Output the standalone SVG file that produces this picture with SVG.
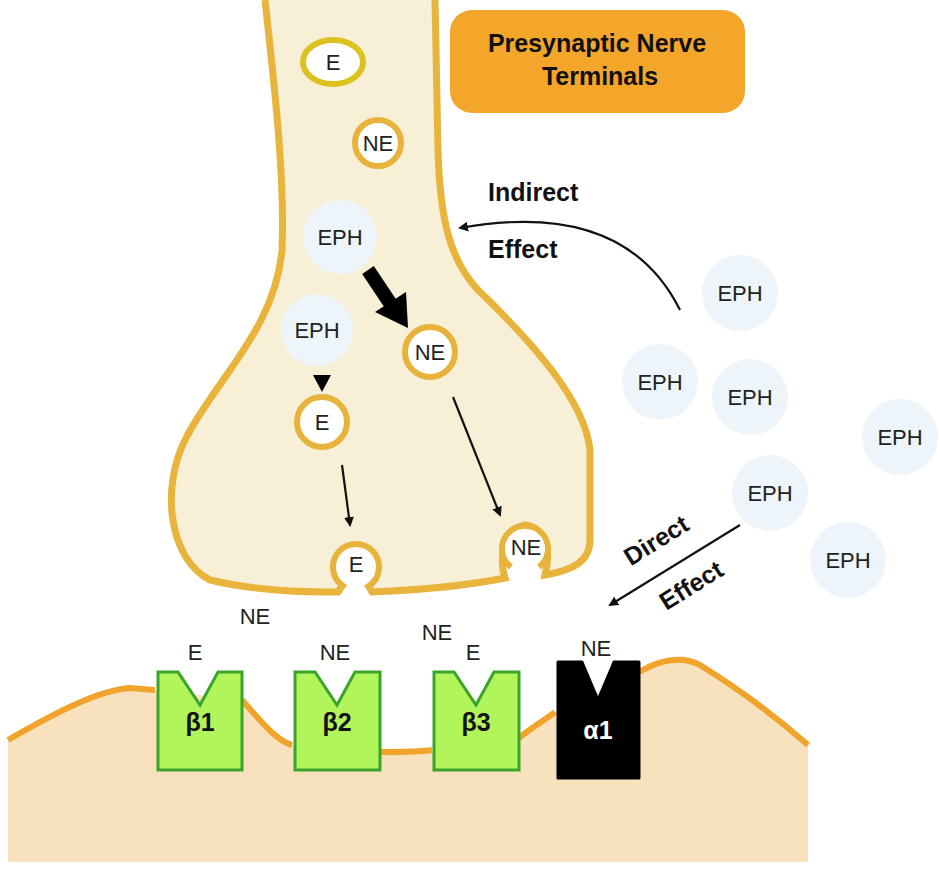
<svg xmlns="http://www.w3.org/2000/svg" width="940" height="872" viewBox="0 0 940 872">
<style>
text{font-family:"Liberation Sans",Arial,sans-serif;text-anchor:middle;dominant-baseline:central}
.t{font-size:22px;fill:#222}
.b{font-weight:bold;font-size:25px;fill:#111}
.l{text-anchor:start}
.ves{fill:#fff;stroke:#e8b33a;stroke-width:6}
.eph{fill:#eef5fa}
.rec{fill:#b2f55a;stroke:#3aa52a;stroke-width:3}
.ar{stroke:#111;stroke-width:2.2;fill:none;marker-end:url(#ah)}
</style>
<defs>
<marker id="ah" markerWidth="10" markerHeight="10" refX="8" refY="5" orient="auto" markerUnits="userSpaceOnUse" viewBox="0 0 10 10"><path d="M0,0L10,5L0,10z" fill="#111"/></marker>
</defs>
<g id="postsynaptic">
<path d="M8,740 C60,710 100,690 130,688 L155,690 L242,700 C260,720 275,740 292,745 L380,752 C400,752 420,752 432,750 L519,738 C535,725 548,718 555,712 L639,672 C660,660 680,655 700,665 C740,690 780,720 808,745 L808,862 L8,862 Z" fill="#f8e1bd"/>
<path d="M8,740 C60,710 100,690 130,688 L155,690 M242,700 C260,720 275,740 292,745 M380,752 C400,752 420,752 432,750 M519,738 C535,725 548,718 555,712 M639,672 C660,660 680,655 700,665 C740,690 780,720 808,745" fill="none" stroke="#f0a42c" stroke-width="6"/>
</g>
<g id="terminal">
<path d="M265,0 C275,90 285,180 282,250 C275,330 215,380 185,440 C160,490 170,560 210,580 C260,592 310,592 338,592 C350,572 362,572 372,592 C420,590 470,585 505,578 C498,555 505,530 525,525 C545,528 552,548 545,575 C575,570 590,560 590,540 L590,450 C585,400 530,340 478,290 C450,260 440,220 438,150 L435,0" fill="#f8efd7" stroke="#e9b43c" stroke-width="7"/>
</g>
<g id="vesicles">
<ellipse cx="333" cy="62" rx="30" ry="22" fill="#fff" stroke="#dcc21e" stroke-width="6"/><text class="t" x="333" y="62">E</text>
<circle class="ves" cx="378" cy="143" r="23"/><text class="t" x="378" y="143">NE</text>
<circle class="eph" cx="340" cy="237" r="37"/><text class="t" x="340" y="237">EPH</text>
<circle class="eph" cx="317" cy="330" r="36"/><text class="t" x="317" y="330">EPH</text>
<circle class="ves" cx="430" cy="352" r="25"/><text class="t" x="430" y="352">NE</text>
<circle class="ves" cx="322" cy="422" r="25"/><text class="t" x="322" y="422">E</text>
<circle cx="356" cy="566" r="21" fill="#fff"/>
<path d="M343,586 A23,23 0 1 1 369,586" fill="none" stroke="#e8b33a" stroke-width="6"/>
<text class="t" x="356" y="564">E</text>
<circle cx="525" cy="548" r="21" fill="#fff"/>
<path d="M511,567 A23,23 0 1 1 539,567" fill="none" stroke="#e8b33a" stroke-width="6"/>
<text class="t" x="526" y="547">NE</text>
</g>
<g id="extracellular">
<circle class="eph" cx="740" cy="293" r="38"/><text class="t" x="740" y="293">EPH</text>
<circle class="eph" cx="660" cy="382" r="38"/><text class="t" x="660" y="382">EPH</text>
<circle class="eph" cx="750" cy="397" r="38"/><text class="t" x="750" y="397">EPH</text>
<circle class="eph" cx="900" cy="437" r="38"/><text class="t" x="900" y="437">EPH</text>
<circle class="eph" cx="770" cy="493" r="38"/><text class="t" x="770" y="493">EPH</text>
<circle class="eph" cx="848" cy="560" r="38"/><text class="t" x="848" y="560">EPH</text>
</g>
<g id="connectors">
<path d="M368,270 L392,306" stroke="#000" stroke-width="14"/>
<path d="M375,312 L408,328 L406,292 Z" fill="#000"/>
<path d="M313,375 L331,375 L322,392 Z" fill="#000"/>
<path class="ar" d="M342,465 L350,525"/>
<path class="ar" d="M453,397 L500,515"/>
<path class="ar" d="M680,310 C640,230 560,210 460,228"/>
<path class="ar" d="M740,525 L610,605"/>
</g>
<g id="label-box">
<rect x="450" y="10" width="295" height="103" rx="22" fill="#f4a62a"/>
<text class="b" x="597" y="43" font-size="23">Presynaptic Nerve</text>
<text class="b" x="600" y="76" font-size="23">Terminals</text>
</g>
<text class="b l" x="488" y="192">Indirect</text>
<text class="b l" x="488" y="249">Effect</text>
<text class="b" x="656" y="540" transform="rotate(-32 656 540)">Direct</text>
<text class="b" x="691" y="585" transform="rotate(-32 691 585)">Effect</text>
<g id="ligands">
<text class="t" x="255" y="616">NE</text>
<text class="t" x="195" y="652">E</text>
<text class="t" x="335" y="652">NE</text>
<text class="t" x="437" y="632">NE</text>
<text class="t" x="473" y="652">E</text>
<text class="t" x="596" y="648">NE</text>
</g>
<g id="receptors">
<path class="rec" d="M158,672 L178,672 L200,705 L218,672 L242,672 L242,770 L158,770 Z"/>
<text class="b" x="200" y="722">β1</text>
<path class="rec" d="M295,672 L315,672 L337,705 L355,672 L380,672 L380,770 L295,770 Z"/>
<text class="b" x="337" y="722">β2</text>
<path class="rec" d="M434,672 L454,672 L476,705 L494,672 L519,672 L519,770 L434,770 Z"/>
<text class="b" x="476" y="722">β3</text>
<path d="M558,662 L582,662 L598,700 L614,662 L639,662 L639,778 L558,778 Z" fill="#000" stroke="#000" stroke-width="3" stroke-linejoin="round"/>
<text class="b" x="598" y="730" style="fill:#fff">α1</text>
</g>
</svg>
